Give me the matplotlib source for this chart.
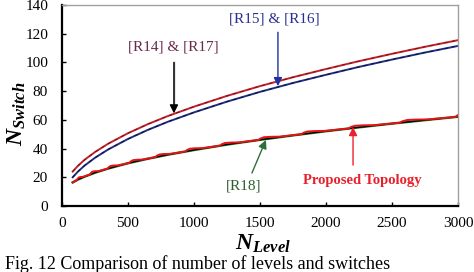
import numpy as np
import matplotlib
matplotlib.use("Agg")
import matplotlib.pyplot as plt

# Datos
n_level = [81, 120, 170, 250, 350, 500, 650, 800, 1000, 1250, 1500, 1750, 2000, 2250, 2500, 2750, 3000]
r14_r17 = [24.0, 27.9, 32.1, 37.6, 43.4, 50.7, 57.0, 62.6, 69.2, 76.7, 83.5, 89.7, 95.4, 100.9, 106.0, 110.9, 115.5]
r15_r16 = [20.0, 23.9, 28.1, 33.6, 39.4, 46.7, 53.0, 58.6, 65.2, 72.7, 79.5, 85.7, 91.4, 96.9, 102.0, 106.9, 111.5]
r18 = [16.4, 18.4, 20.4, 23.2, 26.1, 29.8, 32.9, 35.7, 39.0, 42.8, 46.1, 49.2, 52.1, 54.8, 57.4, 59.8, 62.2]

# Topologia propuesta (escalones suavizados)
prop_x = [81, 112, 118, 128, 140, 159, 213, 219, 230, 245, 276, 346, 353, 368, 390, 424,
          511, 520, 538, 565, 605, 708, 718, 740, 770, 818, 936, 947, 970, 1005, 1063,
          1197, 1210, 1235, 1280, 1340, 1490, 1503, 1530, 1580, 1648, 1815, 1830, 1860, 1915, 1989,
          2172, 2188, 2220, 2280, 2362, 2560, 2578, 2615, 2680, 2767, 2981, 2990, 3000]
prop_y = [16.5, 18, 19.0, 19.9, 20.2, 20.3, 22, 23.0, 23.9, 24.2, 24.3, 26, 27.0, 27.9, 28.2, 28.3,
          30, 31.0, 31.9, 32.2, 32.3, 34, 35.0, 35.9, 36.2, 36.3, 38, 39.0, 39.9, 40.2, 40.3,
          42, 43.0, 43.9, 44.2, 44.3, 46, 47.0, 47.9, 48.2, 48.3, 50, 51.0, 51.9, 52.2, 52.3,
          54, 55.0, 55.9, 56.2, 56.3, 58, 59.0, 59.9, 60.2, 60.3, 62, 62.8, 63.4]

x_ticks = [0, 500, 1000, 1500, 2000, 2500, 3000]
y_ticks = [0, 20, 40, 60, 80, 100, 120, 140]

plt.rcParams['font.family'] = ['Liberation Serif', 'DejaVu Serif']
plt.rcParams['mathtext.fontset'] = 'custom'
plt.rcParams['mathtext.it'] = 'Liberation Serif:italic:bold'
plt.rcParams['mathtext.rm'] = 'Liberation Serif:bold'

fig = plt.figure(figsize=(4.74, 2.72), dpi=100)
ax = fig.add_axes([0.1308, 0.2426, 0.9662 - 0.1308, 0.9816 - 0.2426])

# Curvas
ax.plot(n_level, r14_r17, color='#c8202a', lw=1.4)
ax.plot(n_level, r14_r17, color='#401010', lw=0.6, ls=(0, (4, 5)), alpha=0.8)
ax.plot(n_level, r15_r16, color='#1f2f86', lw=1.4)
ax.plot(n_level, r15_r16, color='black', lw=0.6, ls=(0, (4, 5)), alpha=0.8)
ax.plot(n_level, r18, color='#2e8b2e', lw=1.8)
ax.plot(n_level, r18, color='black', lw=1.0)
ax.plot(prop_x, prop_y, color='#e8101a', lw=1.4, solid_joinstyle='round')

# Anotaciones
ax.annotate('', xy=(848, 64.5), xytext=(848, 100),
            arrowprops=dict(arrowstyle='-|>,head_length=0.5,head_width=0.25',
                            lw=1.0, fc='black', ec='black', shrinkA=0, shrinkB=0))
ax.plot([848, 848], [71, 100], color='#8a8a8a', lw=1.0)
ax.text(841, 110.7, '[R14] & [R17]', color='#6a2a4a', fontsize=11, ha='center', va='center')

ax.annotate('', xy=(1636, 83.5), xytext=(1636, 121),
            arrowprops=dict(arrowstyle='-|>,head_length=0.5,head_width=0.25',
                            color='#2030a0', lw=1.0, shrinkA=0, shrinkB=0))
ax.text(1606, 130, '[R15] & [R16]', color='#2a2f8f', fontsize=11, ha='center', va='center')

ax.annotate('', xy=(1545, 46.0), xytext=(1439, 23),
            arrowprops=dict(arrowstyle='-|>,head_length=0.5,head_width=0.25',
                            color='#2f6f3a', lw=1.0, shrinkA=0, shrinkB=0))
ax.text(1379, 14, '[R18]', color='#2e5e2e', fontsize=11, ha='center', va='center')

ax.annotate('', xy=(2205, 55), xytext=(2205, 28.5),
            arrowprops=dict(arrowstyle='-|>,head_length=0.5,head_width=0.25',
                            color='#ee2030', lw=1.0, shrinkA=0, shrinkB=0))
ax.text(2273, 18, 'Proposed Topology', color='#e8202a', fontsize=10.5,
        fontweight='bold', ha='center', va='center')

# Ejes
ax.set_xlim(0, 3000)
ax.set_ylim(0, 140)
ax.set_xticks(x_ticks)
ax.set_yticks(y_ticks)
ax.tick_params(direction='in', labelsize=11, length=3, width=1, pad=8)
ax.tick_params(axis='y', pad=10)
for s in ['left', 'bottom']:
    ax.spines[s].set_linewidth(1.6)
    ax.spines[s].set_color('black')
for s in ['top', 'right']:
    ax.spines[s].set_linewidth(1.0)
    ax.spines[s].set_color('#a0a0a0')

fig.text(0.035, 0.58, r'$N_{Switch}$', fontsize=17, rotation=90, ha='center', va='center')
fig.text(0.555, 0.105, r'$N_{Level}$', fontsize=17, ha='center', va='center')

fig.text(0.01, 0.03, 'Fig. 12 Comparison of number of levels and switches',
         fontsize=13, ha='left', va='center')

fig.savefig('out.png', dpi=100)
